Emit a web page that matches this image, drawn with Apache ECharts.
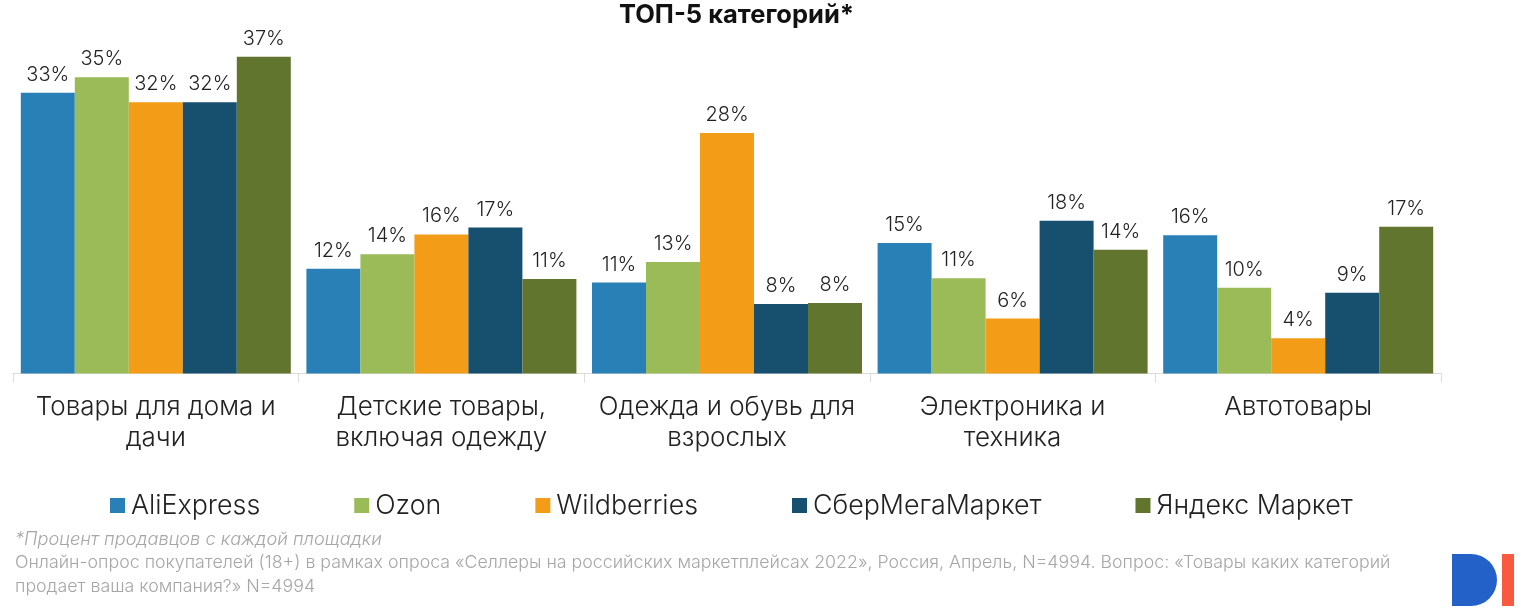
<!DOCTYPE html>
<html>
<head>
<meta charset="utf-8">
<style>html,body{margin:0;padding:0;background:#fff}#chart{width:1521px;height:612px}</style>
<script src="https://cdn.jsdelivr.net/npm/echarts@6/dist/echarts.min.js"></script>
</head>
<body>
<div id="chart"></div>
<script>
var categories = ['Товары для дома и\nдачи', 'Детские товары,\nвключая одежду', 'Одежда и обувь для\nвзрослых', 'Электроника и\nтехника', 'Автотовары'];
var aliExpress = [32.7, 12.2, 10.6, 15.2, 16.1];
var ozon = [34.5, 13.9, 13.0, 11.1, 10.0];
var wildberries = [31.6, 16.2, 28.0, 6.4, 4.1];
var sber = [31.6, 17.0, 8.1, 17.8, 9.4];
var yandex = [36.9, 11.0, 8.2, 14.4, 17.1];
var names = ['AliExpress', 'Ozon', 'Wildberries', 'СберМегаМаркет', 'Яндекс Маркет'];
var colors = ['#2980b6', '#9bbb59', '#f39c17', '#174f6f', '#61752f'];
var note1 = '*Процент продавцов с каждой площадки';
var note2 = 'Онлайн-опрос покупателей (18+) в рамках опроса «Селлеры на российских маркетплейсах 2022», Россия, Апрель, N=4994. Вопрос: «Товары каких категорий';
var note3 = 'продает ваша компания?» N=4994';

var font = 'Inter';
var rows = [aliExpress, ozon, wildberries, sber, yandex];

var myChart = echarts.init(document.getElementById('chart'), null, {renderer: 'canvas'});
myChart.setOption({
  animation: false,
  title: {
    text: 'ТОП-5 категорий*',
    left: 731.5, top: -3, textAlign: 'center',
    textStyle: {fontFamily: font, fontWeight: 'bold', fontSize: 25.5, color: '#111'}
  },
  legend: {
    left: 105, top: 487,
    itemWidth: 15, itemHeight: 15, itemGap: 94,
    icon: 'rect',
    textStyle: {fontFamily: font, fontWeight: 300, fontSize: 26.8, color: '#222', padding: [0, 0, 0, 1]},
    data: names
  },
  grid: {left: 13, right: 80, top: 0, height: 373.5},
  xAxis: {
    type: 'category',
    data: categories,
    axisLine: {lineStyle: {color: '#dcdcdc'}},
    axisTick: {show: true, length: 9, lineStyle: {color: '#dcdcdc'}},
    axisLabel: {
      interval: 0, margin: 18, lineHeight: 31, verticalAlign: 'top',
      fontFamily: font, fontWeight: 300, fontSize: 26, color: '#222'
    }
  },
  yAxis: {type: 'value', min: 0, max: 43.5, show: false, splitLine: {show: false}},
  series: rows.map(function (vals, i) {
    return {
      name: names[i],
      type: 'bar',
      data: vals,
      barWidth: 54,
      barGap: 0,
      itemStyle: {color: colors[i]},
      label: {
        show: true, position: 'top', distance: 8,
        fontFamily: font, fontWeight: 300, fontSize: 20, color: '#222',
        formatter: function (p) { return Math.round(p.value) + '%'; }
      }
    };
  }),
  graphic: [
    {type: 'text', left: 15, top: 531, style: {text: note1, fontFamily: font, fontStyle: 'italic', fontWeight: 300, fontSize: 18.2, fill: '#a6a6a6'}},
    {type: 'text', left: 15, top: 554, style: {text: note2, fontFamily: font, fontWeight: 300, fontSize: 17.8, fill: '#a6a6a6'}},
    {type: 'text', left: 15, top: 578, style: {text: note3, fontFamily: font, fontWeight: 300, fontSize: 17.8, fill: '#a6a6a6'}},
    // logo
    {type: 'rect', shape: {x: 1452, y: 554, width: 20, height: 52}, style: {fill: '#2361c8'}},
    {type: 'sector', shape: {cx: 1471, cy: 580, r: 26, startAngle: -Math.PI / 2, endAngle: Math.PI / 2}, style: {fill: '#2361c8'}},
    {type: 'rect', shape: {x: 1502, y: 554, width: 12, height: 52}, style: {fill: '#f9593f'}}
  ]
});
</script>
</body>
</html>
